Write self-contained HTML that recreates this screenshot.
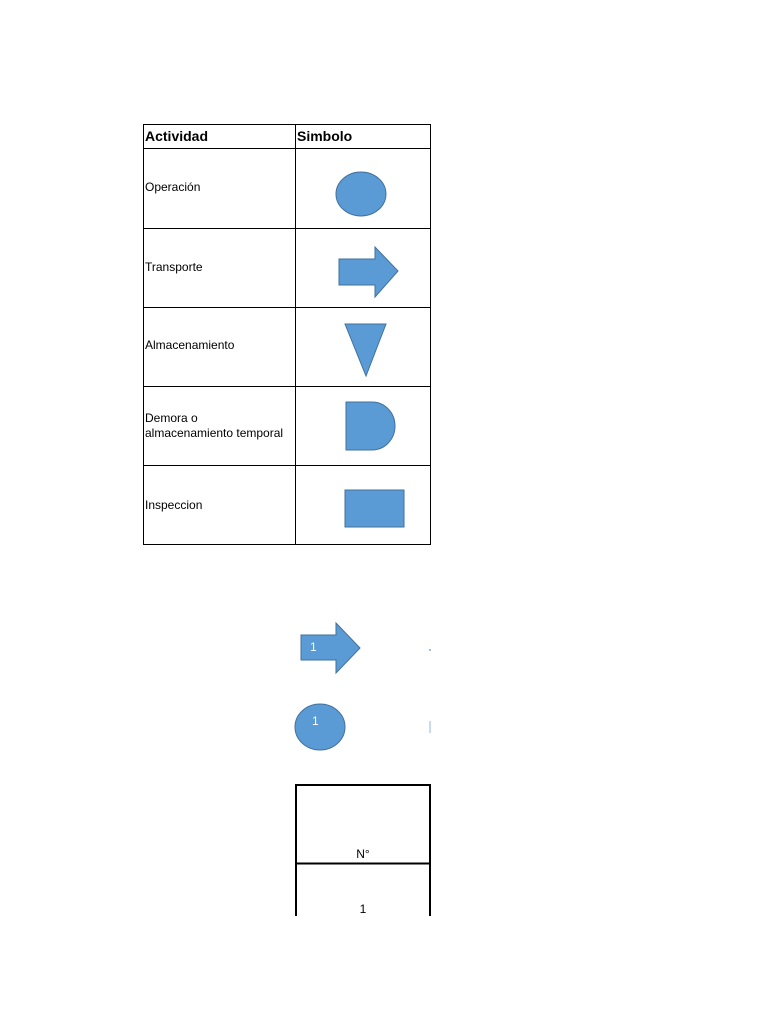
<!DOCTYPE html>
<html><head><meta charset="utf-8"><style>body{margin:0;background:#fff}svg{display:block}</style></head><body>
<svg width="768" height="1024" xmlns="http://www.w3.org/2000/svg" font-family="Liberation Sans, sans-serif">
<g stroke="#000" stroke-width="1" fill="none">
<rect x="143.5" y="124.5" width="287" height="420"/>
<line x1="295.5" y1="124" x2="295.5" y2="545"/>
<line x1="143" y1="148.5" x2="431" y2="148.5"/>
<line x1="143" y1="228.5" x2="431" y2="228.5"/>
<line x1="143" y1="307.5" x2="431" y2="307.5"/>
<line x1="143" y1="386.5" x2="431" y2="386.5"/>
<line x1="143" y1="465.5" x2="431" y2="465.5"/>
</g>
<text x="145" y="141" font-size="14" font-weight="bold">Actividad</text>
<text x="297" y="141" font-size="14" font-weight="bold">Simbolo</text>
<g font-size="12">
<text x="145" y="191">Operación</text>
<text x="145" y="271">Transporte</text>
<text x="145" y="349">Almacenamiento</text>
<text x="145" y="422">Demora o</text>
<text x="145" y="437">almacenamiento temporal</text>
<text x="145" y="509">Inspeccion</text>
</g>
<g fill="#5b9bd5" stroke="#41719c" stroke-width="1">
<ellipse cx="361" cy="194" rx="25" ry="22"/>
<polygon points="339,259 375,259 375,247 398,271 375,297 375,285 339,285"/>
<polygon points="345,324 386,324 366,376"/>
<path d="M346,402 H372 A23,24 0 0 1 372,450 H346 Z"/>
<rect x="345" y="490" width="59" height="37"/>
<polygon points="301,635 336,635 336,623 360,648 336,673 336,660 301,660"/>
<ellipse cx="320" cy="727" rx="25" ry="23"/>
</g>
<text x="310" y="651" font-size="12" fill="#fff">1</text>
<text x="312" y="725" font-size="12" fill="#fff">1</text>
<rect x="429" y="649" width="2" height="2" fill="#9dc3e6"/>
<rect x="429" y="721" width="2" height="12" fill="#c5dcef"/>
<g stroke="#000" stroke-width="2" fill="none">
<path d="M296,916 V785 H430 V916"/>
<line x1="295" y1="863.5" x2="431" y2="863.5"/>
</g>
<text x="363" y="858" font-size="12" text-anchor="middle">N°</text>
<text x="363" y="913" font-size="12" text-anchor="middle">1</text>
</svg>
</body></html>
